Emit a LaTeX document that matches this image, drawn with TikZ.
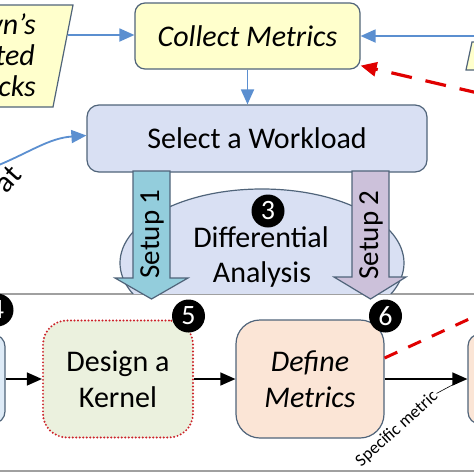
\documentclass[tikz,border=0pt]{standalone}
\usepackage{fontspec}
\setmainfont{Carlito}
\usetikzlibrary{arrows.meta,shapes.geometric,calc}
\definecolor{slate}{HTML}{50647A}
\definecolor{ablue}{HTML}{5B8FD0}
\definecolor{yfill}{HTML}{FFFFCC}
\definecolor{bfill}{HTML}{D9E0F3}
\definecolor{lbfill}{HTML}{DEEBF7}
\definecolor{s1fill}{HTML}{93CDDC}
\definecolor{s2fill}{HTML}{CCC1DA}
\definecolor{gfill}{HTML}{EBF1DE}
\definecolor{pfill}{HTML}{FBE5D6}
\definecolor{dred}{HTML}{E00000}
\definecolor{dotred}{HTML}{CC2229}
\definecolor{panelgray}{HTML}{A0A0A0}
\begin{document}
\begin{tikzpicture}[x=1pt,y=-1pt,
 rbx/.style={draw=slate, line width=1.2pt, rounded corners=#1, inner sep=0pt},
 rbx/.default=12pt,
 big/.style={font=\fontsize{30}{36}\selectfont},
 bigit/.style={font=\fontsize{30}{36}\selectfont\itshape},
 bluearr/.style={draw=ablue, line width=1.8pt, -{Triangle[length=15pt,width=13pt]}},
 blackarr/.style={draw=black, line width=1.4pt, -{Triangle[length=15pt,width=13pt]}},
 numc/.style={circle, fill=black, text=white, minimum size=33pt, inner sep=0pt, font=\fontsize{28}{28}\selectfont},
 reddash/.style={draw=dred, line width=3.2pt, dash pattern=on 21pt off 14pt},
 reddash2/.style={draw=dred, line width=3pt, dash pattern=on 14pt off 12pt},
 setupbox/.style={draw=slate, line width=1.2pt},
]
\useasboundingbox (0,0) rectangle (474,474);
\clip (0,0) rectangle (474,474);
\fill[white] (0,0) rectangle (474,474);

% lower panel frame
\draw[panelgray, line width=1.5pt] (-5,294) rectangle (479,471);

% top-left parallelogram
\draw[draw=slate, line width=1.2pt, fill=yfill] (-40,5) -- (73,5) -- (53,107) -- (-60,107) -- cycle;
\node[bigit, anchor=base east, inner sep=0pt] (pl1) at (36,34) {wn’s};
\node[bigit, anchor=base east, inner sep=0pt] (pl2) at (35,65) {ted};
\node[bigit, anchor=base east, inner sep=0pt] (pl3) at (36,96) {cks};

% top-right parallelogram
\draw[draw=slate, line width=1.2pt, fill=yfill] (472,42) -- (540,42) -- (534,70) -- (466,70) -- cycle;

% collect metrics
\node[rbx=10pt, fill=yfill, minimum width=225pt, minimum height=66pt, bigit] (collect) at (247.5,36) {Collect Metrics};
\coordinate (plout) at (68,35);
\draw[bluearr] (plout) -- (collect.west |- plout);
\coordinate (rin) at (480,36);
\draw[bluearr] (rin) -- (collect.east);
\coordinate (rdin) at (480,93.5);
\draw[reddash, -{Triangle[length=16pt,width=14pt]}] (rdin) -- ([yshift=4pt]collect.south east);

% select a workload
\node[rbx=12pt, fill=bfill, minimum width=340pt, minimum height=67pt, big] (select) at (257,138.5) {Select a Workload};
\draw[bluearr] (collect.south) -- (collect.south |- select.north);
\coordinate (lin) at (-6,167);
\draw[bluearr] (lin) to[out=22,in=184] ([yshift=3pt]select.west);
\node[big, rotate=48, inner sep=0pt] (atword) at (8,179) {at};

% differential analysis cloud
\begin{scope}
\clip (0,0) rectangle (474,293);
\node[ellipse, draw=slate, line width=1.2pt, fill=bfill, minimum width=284pt, minimum height=148pt, inner sep=0pt] (diff) at (262,263) {};
\end{scope}

% setup arrows
\draw[setupbox, fill=s1fill] (133,171) -- (170,171) -- (170,278) -- (188,278) -- (151.5,299) -- (115,278) -- (133,278) -- cycle;
\draw[setupbox, fill=s2fill] (352,171) -- (389,171) -- (389,277) -- (406,277) -- (370.5,299) -- (334,277) -- (352,277) -- cycle;
\node[font=\fontsize{29}{29}\selectfont, rotate=90, inner sep=0pt] (s1t) at (152,234) {Setup 1};
\node[font=\fontsize{29}{29}\selectfont, rotate=90, inner sep=0pt] (s2t) at (371,235) {Setup 2};

\node[big, anchor=base, inner sep=0pt] (dt1) at (261,247) {Differential};
\node[big, anchor=base, inner sep=0pt] (dt2) at (262,282) {Analysis};
\node[numc] (n3) at (268,211) {3};

% lower panel nodes
\node[rbx=12pt, fill=lbfill, minimum width=90pt, minimum height=89pt] (lbox) at (-40,379) {};
\node[numc] (n4) at (-3,310) {4};
\node[rbx=24pt, draw=dotred, line width=2.2pt, dash pattern=on 0pt off 3.5pt, line cap=round, fill=gfill, minimum width=150pt, minimum height=117pt, big, align=center] (design) at (118,379) {Design a\\Kernel};
\node[numc] (n5) at (188.5,316) {5};
\node[rbx=24pt, fill=pfill, minimum width=148pt, minimum height=118pt, bigit, align=center] (define) at (310,379) {Define\\Metrics};
\node[numc] (n6) at (385.5,316) {6};
\node[rbx=12pt, fill=pfill, minimum width=90pt, minimum height=90pt] (rbox) at (513,379) {};

\draw[blackarr] (lbox.east) -- (design.west);
\draw[blackarr] (design.east) -- (define.west);
\draw[blackarr] (define.east) -- (rbox.west);

\coordinate (rdout) at (480,314);
\draw[reddash2] ([yshift=21pt]define.east) -- (rdout);

\node[font=\fontsize{17.5}{17.5}\selectfont, rotate=42, inner sep=1pt] (spec) at (397,429) {Specific metric};
\coordinate (lead) at (458,382);
\draw[line width=0.6pt] (spec.east) -- (lead);
\end{tikzpicture}
\end{document}
